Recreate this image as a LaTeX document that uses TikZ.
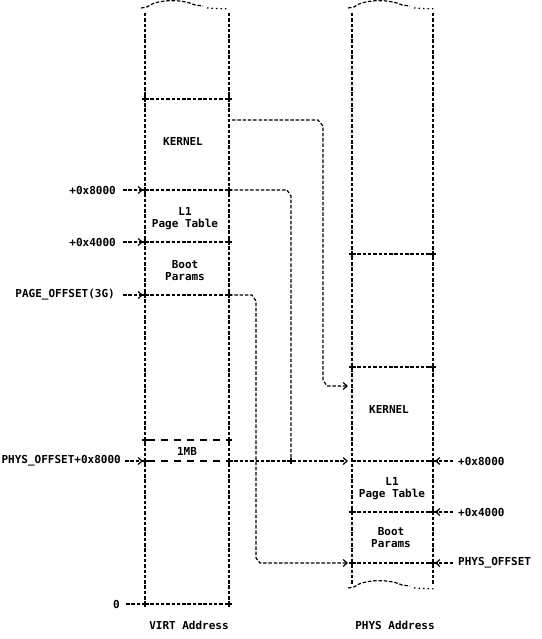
\documentclass[tikz,border=0pt]{standalone}
\usepackage{fontspec}
\setmonofont{DejaVu Sans Mono}
\usetikzlibrary{arrows.meta}

\begin{document}
\begin{tikzpicture}[
  x=1pt, y=-1pt,
  >={Straight Barb[length=4pt,width=7pt,line width=1.2pt]},
  every node/.style={inner sep=1pt, font=\ttfamily\bfseries\fontsize{11}{12}\selectfont},
  lbl/.style={align=center},
  ascii/.style={line width=1.2pt, dash pattern=on 3.5pt off 1.8pt},
  gap/.style={line width=1.2pt, dash pattern=on 6.5pt off 6.5pt, dash phase=-3pt},
  dots/.style={line width=1.2pt, dash pattern=on 1.5pt off 3pt},
  crux/.style={line width=1.2pt}
]
\useasboundingbox (0,0) rectangle (541,639);

% column edges and torn ends
\foreach \x/\b in {145/604, 229/604, 352/584, 433/584}
  \draw[ascii] (\x,13) -- (\x,\b);
\foreach \x/\y in {145/0, 352/0, 352/580} {
  \draw[ascii, shift={(\x,\y)}] (-4,8) -- (2,7) .. controls (10,0) and (35,-2) .. (50,5) -- (58,6);
  \draw[dots, shift={(\x,\y)}] (62,8) -- (84,9);
}

% boundary points
\foreach \n/\y in {k/99, a/190, b/242, c/295, m/440, p/461, z/604} {
  \coordinate (v\n-l) at (145,\y);
  \coordinate (v\n-r) at (229,\y);
}
\foreach \n/\y in {u/254, w/367, k/386, a/461, b/512, c/563} {
  \coordinate (p\n-l) at (352,\y);
  \coordinate (p\n-r) at (433,\y);
}
\coordinate (ks) at (232,120);
\coordinate (pj) at (291,461);

% region boundaries
\foreach \n in {k,a,b,c,z} \draw[ascii] (v\n-l) -- (v\n-r);
\foreach \n in {m,p} \draw[gap] (v\n-l) -- (v\n-r);
\foreach \n in {u,w,a,b,c} \draw[ascii] (p\n-l) -- (p\n-r);

% region texts
\node (vkern) at (183,141) {KERNEL};
\node[lbl] (vl1) at (185,219) {L1\\Page Table};
\node[lbl] (vboot) at (185,271) {Boot\\Params};
\node (vmb) at (187,451) {1MB};
\node (vcap) at (189,625) {VIRT Address};
\node (pkern) at (389,409) {KERNEL};
\node[lbl] (pl1) at (392,489) {L1\\Page Table};
\node[lbl] (pboot) at (391,538) {Boot\\Params};
\node (pcap) at (395,625) {PHYS Address};

% address labels
\node[anchor=east] (a8) at (117,190) {+0x8000};
\node[anchor=east] (a4) at (117,242) {+0x4000};
\node[anchor=east] (apo) at (116,295) {PAGE\_OFFSET(3G)};
\node[anchor=east] (app) at (122,461) {PHYS\_OFFSET+0x8000};
\node[anchor=east] (a0) at (121,604) {0};
\node[anchor=west] (b8) at (457,461) {+0x8000};
\node[anchor=west] (b4) at (457,512) {+0x4000};
\node[anchor=west] (bpo) at (457,563) {PHYS\_OFFSET};

\draw[ascii,->,shorten >=2pt] ([xshift=6pt]a8.east) -- (va-l);
\draw[ascii,->,shorten >=2pt] ([xshift=6pt]a4.east) -- (vb-l);
\draw[ascii,->,shorten >=2pt] ([xshift=7pt]apo.east) -- (vc-l);
\draw[ascii,->,shorten >=2pt] ([xshift=3pt]app.east) -- (vp-l);
\draw[ascii,shorten >=2pt] ([xshift=5pt]a0.east) -- (vz-l);
\draw[ascii,->,shorten >=2pt] ([xshift=-4pt]b8.west) -- (pa-r);
\draw[ascii,->,shorten >=2pt] ([xshift=-4pt]b4.west) -- (pb-r);
\draw[ascii,->,shorten >=2pt] ([xshift=-4pt]bpo.west) -- (pc-r);

% mappings virt -> phys
\draw[ascii,->,shorten >=4pt] (ks) -- (318,120) -- (323,126) -- (323,380) -- (327,386) -- (pk-l);
\draw[ascii] (va-r) -- (287,190) -- (291,196) -- (pj);
\draw[ascii,->,shorten >=4pt] (vp-r) -- (pj) -- (pa-l);
\draw[ascii,->,shorten >=4pt] (vc-r) -- (252,295) -- (256,301) -- (256,558) -- (260,563) -- (pc-l);

% plus marks at the corners
\foreach \p in {vk-l,vk-r,va-l,va-r,vb-l,vb-r,vc-l,vc-r,vm-l,vm-r,vp-l,vp-r,vz-l,vz-r,
                pu-l,pu-r,pw-l,pw-r,pa-r,pb-l,pb-r,pc-l,pc-r,pj}
  \draw[crux] ([xshift=-3pt]\p) -- ([xshift=3pt]\p) ([yshift=-3pt]\p) -- ([yshift=3pt]\p);
\end{tikzpicture}
\end{document}
